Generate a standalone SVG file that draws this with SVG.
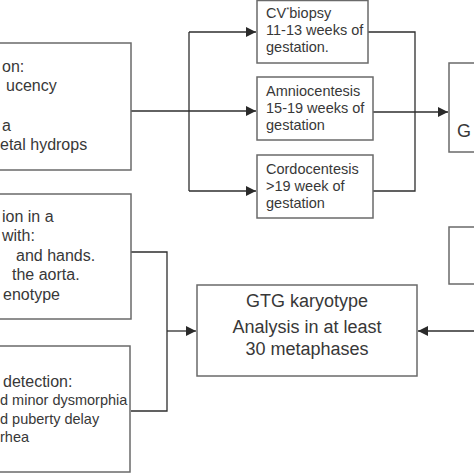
<svg xmlns="http://www.w3.org/2000/svg" width="474" height="474" viewBox="0 0 474 474">
<defs>
<marker id="ah" markerWidth="10" markerHeight="10" refX="10" refY="5" orient="auto" markerUnits="userSpaceOnUse">
<path d="M0,0 L10,5 L0,10 Z" fill="#2a2a2a"/>
</marker>
<style>
.box{fill:#fff;stroke:#6a6a6a;stroke-width:1.5}
.ln{fill:none;stroke:#2e2e2e;stroke-width:1.3}
text{font-family:"Liberation Sans",Arial,sans-serif;fill:#383838}
.l{font-size:16px}
.s{font-size:14.5px}
.m{font-size:14.5px}
.g{font-size:18px;text-anchor:middle}
</style>
</defs>
<rect width="474" height="474" fill="#fff"/>
<g id="connectors">
<path class="ln" d="M131,111 H189"/>
<path class="ln" d="M189,32 V191"/>
<path class="ln" d="M189,32 H256" marker-end="url(#ah)"/>
<path class="ln" d="M189,111 H256" marker-end="url(#ah)"/>
<path class="ln" d="M189,191 H256" marker-end="url(#ah)"/>
<path class="ln" d="M368,32 H415 V191 H373"/>
<path class="ln" d="M373,112 H448" marker-end="url(#ah)"/>
<path class="ln" d="M131,252 H167 V411 H131"/>
<path class="ln" d="M167,331 H196" marker-end="url(#ah)"/>
<path class="ln" d="M474,331 H418" marker-end="url(#ah)"/>
</g>
<g id="n_indication">
<rect class="box" x="-20" y="43" width="151" height="127"/>
<text class="l" x="2" y="72">on:</text>
<text class="l" x="6" y="91">ucency</text>
<text class="l" x="2" y="131">a</text>
<text class="l" x="0" y="150">etal hydrops</text>
</g>
<g id="n_family">
<rect class="box" x="-20" y="194" width="151" height="125"/>
<text class="l" x="2" y="222">ion in a</text>
<text class="l" x="2" y="241">with:</text>
<text class="l" x="16" y="261">and hands.</text>
<text class="l" x="12" y="280">the aorta.</text>
<text class="l" x="3" y="300">enotype</text>
</g>
<g id="n_postnatal">
<rect class="box" x="-20" y="346" width="150" height="126"/>
<text class="l" x="3" y="387">detection:</text>
<text class="s" x="0" y="405">d minor dysmorphia</text>
<text class="s" x="0" y="424">d puberty delay</text>
<text class="s" x="0" y="442">rhea</text>
</g>
<g id="n_cvs">
<rect class="box" x="257" y="0.5" width="111" height="62.5"/>
<text class="m" x="266" y="18">CV<tspan font-size="8" dy="-6">*</tspan><tspan dy="6">biopsy</tspan></text>
<text class="m" x="266" y="35">11-13 weeks of</text>
<text class="m" x="266" y="52">gestation.</text>
</g>
<g id="n_amnio">
<rect class="box" x="257" y="77" width="116" height="63"/>
<text class="m" x="266" y="96">Amniocentesis</text>
<text class="m" x="266" y="113">15-19 weeks of</text>
<text class="m" x="266" y="130">gestation</text>
</g>
<g id="n_cordo">
<rect class="box" x="257" y="155" width="116" height="63"/>
<text class="m" x="266" y="174">Cordocentesis</text>
<text class="m" x="266" y="191">&gt;19 week of</text>
<text class="m" x="266" y="208">gestation</text>
</g>
<g id="n_right1">
<rect class="box" x="449" y="63" width="40" height="89"/>
<text x="457" y="137" font-size="18">G</text>
</g>
<g id="n_right2">
<rect class="box" x="449" y="227" width="40" height="57"/>
</g>
<g id="n_gtg">
<rect class="box" x="197" y="285" width="220" height="91"/>
<text class="g" x="307" y="307">GTG karyotype</text>
<text class="g" x="307" y="333">Analysis in at least</text>
<text class="g" x="307" y="355">30 metaphases</text>
</g>
</svg>
